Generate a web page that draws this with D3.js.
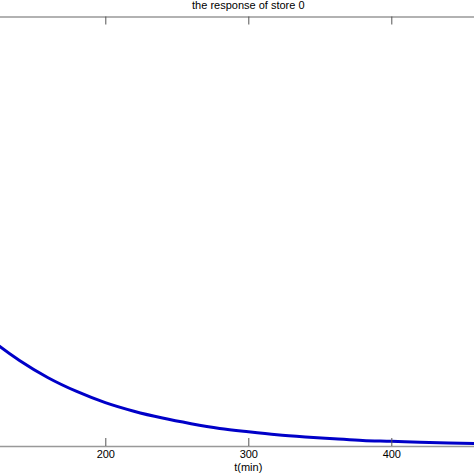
<!DOCTYPE html>
<html>
<head>
<meta charset="utf-8">
<script src="https://cdn.jsdelivr.net/npm/d3@7"></script>
<style>
  html, body { margin: 0; padding: 0; background: #fff; }
  svg { display: block; }
  text { font-family: "Liberation Sans", Arial, Helvetica, sans-serif; }
</style>
</head>
<body>
<svg id="chart" width="474" height="474"></svg>
<script>
// Data (time in minutes, response in relative units)
const times = [100, 120, 140, 160, 180, 200, 220, 240, 260, 280, 300, 320, 340, 360, 380, 400, 420, 440, 460];
const response = [0.311, 0.248, 0.199, 0.159, 0.127, 0.101, 0.081, 0.065, 0.052, 0.041, 0.033, 0.026, 0.021, 0.017, 0.013, 0.011, 0.0086, 0.0068, 0.0055];
const xTicks = [200, 300, 400];
const titleText = "the response of store 0";
const xLabel = "t(min)";

(function () {
const svg = d3.select("#chart");

// plot area (the chart is cropped: left/right borders lie outside the view)
const pLeft = -180.7, pRight = 534.3, pTop = 16.5, pBottom = 446;

const x = d3.scaleLinear().domain([0, 500]).range([pLeft, pRight]);
const y = d3.scaleLinear().domain([0, 1]).range([pBottom, pTop]);

const data = times.map((t, i) => ({ t, v: response[i] }));

// curve
svg.append("path")
  .datum(data)
  .attr("fill", "none")
  .attr("stroke", "#0000c8")
  .attr("stroke-width", 3)
  .attr("d", d3.line().x(d => x(d.t)).y(d => y(d.v)).curve(d3.curveMonotoneX));

// bottom axis
const bottomAxis = d3.axisBottom(x).tickValues(xTicks).tickSize(-8).tickFormat(d3.format("d"));
const gb = svg.append("g").attr("transform", `translate(0,${pBottom})`).call(bottomAxis);
gb.select(".domain").attr("stroke", "#999").attr("stroke-width", 1.6);
gb.selectAll(".tick line").attr("stroke", "#555").attr("stroke-width", 1);
gb.selectAll(".tick text").attr("fill", "#000").attr("font-size", 11).attr("y", 4).attr("dy", "0.71em");

// top axis (ticks only)
const topAxis = d3.axisTop(x).tickValues(xTicks).tickSize(-8).tickFormat("");
const gt = svg.append("g").attr("transform", `translate(0,${pTop})`).call(topAxis);
gt.select(".domain").attr("stroke", "#999").attr("stroke-width", 1.6);
gt.selectAll(".tick line").attr("stroke", "#555").attr("stroke-width", 1);

// title
svg.append("text")
  .attr("x", x(300)).attr("y", 9)
  .attr("text-anchor", "middle").attr("font-size", 11).attr("fill", "#000")
  .text(titleText);

// x label
svg.append("text")
  .attr("x", x(300)).attr("y", 470.5)
  .attr("text-anchor", "middle").attr("font-size", 11).attr("fill", "#000")
  .text(xLabel);
})();
</script>
</body>
</html>
